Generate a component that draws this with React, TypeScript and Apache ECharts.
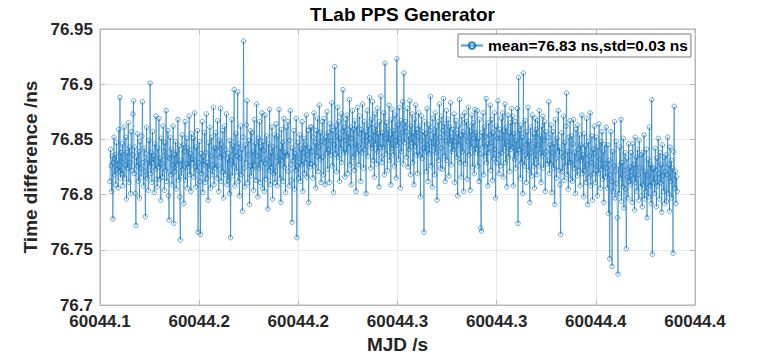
import React, { useEffect, useRef } from "react";
import * as echarts from "echarts";

const TITLE = "TLab PPS Generator";
const X_NAME = "MJD /s";
const Y_NAME = "Time difference /ns";
const LEGEND_NAME = "mean=76.83 ns,std=0.03 ns";

const X_MIN = 60044.1;
const X_MAX = 60044.4;
const X_INTERVAL = 0.05;
const X_TICK_LABELS = ["60044.1", "60044.2", "60044.2", "60044.3", "60044.3", "60044.4", "60044.4"];
const Y_MIN = 76.7;
const Y_MAX = 76.95;
const Y_INTERVAL = 0.05;

// first and last sample time (MJD)
const MJD_START = 60044.105;
const MJD_END = 60044.391;

// Time difference (ns)
const TD_SEG1 = [
  76.812, 76.841, 76.826, 76.803, 76.835, 76.778, 76.829, 76.852, 76.818, 76.836, 76.809, 76.847, 76.823, 76.831, 76.806, 76.859, 76.821, 76.888, 76.815, 76.838,
  76.819, 76.846, 76.808, 76.833, 76.861, 76.815, 76.827, 76.852, 76.796, 76.838, 76.824, 76.865, 76.811, 76.843, 76.829, 76.801, 76.857, 76.822, 76.836, 76.873,
  76.885, 76.819, 76.843, 76.801, 76.772, 76.834, 76.826, 76.855, 76.812, 76.839, 76.797, 76.848, 76.824, 76.816, 76.853, 76.884, 76.829, 76.808, 76.842, 76.821,
  76.780, 76.837, 76.861, 76.815, 76.832, 76.804, 76.849, 76.826, 76.901, 76.819, 76.838, 76.811, 76.857, 76.829, 76.835, 76.802, 76.846, 76.823, 76.871, 76.814,
  76.807, 76.842, 76.825, 76.869, 76.814, 76.833, 76.795, 76.851, 76.828, 76.816, 76.862, 76.839, 76.804, 76.847, 76.822, 76.876, 76.812, 76.834, 76.858, 76.799,
  76.777, 76.833, 76.852, 76.818, 76.841, 76.809, 76.827, 76.862, 76.774, 76.836, 76.821, 76.848, 76.805, 76.839, 76.827, 76.868, 76.813, 76.844, 76.798, 76.759,
  76.831, 76.817, 76.854, 76.823, 76.845, 76.792, 76.839, 76.866, 76.813, 76.828, 76.851, 76.806, 76.842, 76.825, 76.871, 76.818, 76.837, 76.803, 76.855, 76.829,
  76.832, 76.851, 76.816, 76.874, 76.825, 76.807, 76.843, 76.822, 76.858, 76.766, 76.829, 76.848, 76.812, 76.764, 76.837, 76.819, 76.866, 76.802, 76.834, 76.827,
];
const TD_SEG2 = [
  76.856, 76.811, 76.838, 76.873, 76.815, 76.829, 76.795, 76.847, 76.823, 76.861, 76.806, 76.835, 76.852, 76.818, 76.827, 76.879, 76.809, 76.842, 76.824, 76.856,
  76.842, 76.815, 76.867, 76.826, 76.803, 76.849, 76.834, 76.878, 76.812, 76.845, 76.821, 76.858, 76.797, 76.836, 76.862, 76.818, 76.841, 76.873, 76.809, 76.832,
  76.813, 76.837, 76.801, 76.849, 76.761, 76.831, 76.868, 76.817, 76.844, 76.826, 76.895, 76.808, 76.839, 76.855, 76.821, 76.835, 76.893, 76.812, 76.846, 76.799,
  76.833, 76.862, 76.818, 76.841, 76.785, 76.852, 76.939, 76.824, 76.807, 76.845, 76.829, 76.863, 76.885, 76.811, 76.836, 76.849, 76.791, 76.826, 76.858, 76.817,
  76.856, 76.823, 76.839, 76.804, 76.868, 76.827, 76.846, 76.813, 76.882, 76.835, 76.798, 76.851, 76.824, 76.866, 76.811, 76.843, 76.829, 76.874, 76.806, 76.848,
  76.840, 76.803, 76.872, 76.828, 76.814, 76.853, 76.832, 76.787, 76.846, 76.822, 76.877, 76.809, 76.838, 76.825, 76.861, 76.796, 76.843, 76.819, 76.854, 76.811,
  76.821, 76.864, 76.834, 76.808, 76.853, 76.827, 76.877, 76.815, 76.842, 76.793, 76.859, 76.831, 76.847, 76.812, 76.869, 76.825, 76.838, 76.802, 76.861, 76.836,
  76.835, 76.866, 76.821, 76.808, 76.849, 76.876, 76.827, 76.813, 76.775, 76.842, 76.831, 76.858, 76.805, 76.837, 76.822, 76.869, 76.761, 76.826, 76.847, 76.815,
];
const TD_SEG3 = [
  76.833, 76.854, 76.812, 76.841, 76.827, 76.866, 76.803, 76.838, 76.851, 76.819, 76.845, 76.829, 76.872, 76.816, 76.836, 76.858, 76.793, 76.842, 76.825, 76.861,
  76.828, 76.861, 76.839, 76.815, 76.852, 76.874, 76.826, 76.847, 76.806, 76.858, 76.835, 76.869, 76.821, 76.843, 76.881, 76.832, 76.856, 76.811, 76.848, 76.866,
  76.834, 76.818, 76.869, 76.847, 76.809, 76.852, 76.838, 76.875, 76.823, 76.856, 76.841, 76.811, 76.864, 76.836, 76.849, 76.883, 76.826, 76.858, 76.802, 76.845,
  76.916, 76.837, 76.862, 76.821, 76.853, 76.879, 76.834, 76.866, 76.812, 76.851, 76.842, 76.873, 76.829, 76.857, 76.895, 76.838, 76.861, 76.816, 76.849, 76.868,
  76.838, 76.872, 76.819, 76.855, 76.843, 76.886, 76.827, 76.861, 76.809, 76.851, 76.876, 76.834, 76.859, 76.822, 76.867, 76.845, 76.803, 76.862, 76.838, 76.879,
  76.844, 76.827, 76.871, 76.855, 76.812, 76.859, 76.838, 76.882, 76.849, 76.824, 76.866, 76.841, 76.857, 76.801, 76.853, 76.876, 76.835, 76.862, 76.846, 76.888,
  76.851, 76.824, 76.868, 76.842, 76.884, 76.831, 76.857, 76.816, 76.873, 76.846, 76.862, 76.828, 76.878, 76.839, 76.855, 76.807, 76.866, 76.843, 76.889, 76.834,
  76.829, 76.856, 76.843, 76.874, 76.818, 76.919, 76.851, 76.837, 76.865, 76.822, 76.859, 76.847, 76.881, 76.831, 76.854, 76.809, 76.868, 76.842, 76.877, 76.836,
];
const TD_SEG4 = [
  76.858, 76.826, 76.872, 76.849, 76.815, 76.923, 76.845, 76.863, 76.832, 76.879, 76.851, 76.806, 76.867, 76.839, 76.856, 76.884, 76.828, 76.910, 76.847, 76.861,
  76.866, 76.834, 76.857, 76.878, 76.825, 76.853, 76.841, 76.885, 76.818, 76.862, 76.847, 76.873, 76.829, 76.856, 76.809, 76.868, 76.844, 76.881, 76.836, 76.859,
  76.819, 76.853, 76.874, 76.836, 76.862, 76.798, 76.849, 76.871, 76.833, 76.857, 76.842, 76.766, 76.866, 76.839, 76.855, 76.821, 76.878, 76.845, 76.812, 76.863,
  76.837, 76.858, 76.889, 76.826, 76.851, 76.807, 76.869, 76.843, 76.856, 76.818, 76.874, 76.838, 76.861, 76.795, 76.847, 76.866, 76.831, 76.882, 76.852, 76.824,
  76.842, 76.871, 76.823, 76.858, 76.887, 76.835, 76.864, 76.812, 76.849, 76.876, 76.831, 76.855, 76.868, 76.817, 76.861, 76.846, 76.883, 76.827, 76.852, 76.839,
  76.859, 76.841, 76.873, 76.811, 76.848, 76.867, 76.834, 76.855, 76.799, 76.862, 76.845, 76.886, 76.829, 76.853, 76.816, 76.871, 76.839, 76.857, 76.803, 76.865,
  76.874, 76.828, 76.853, 76.866, 76.814, 76.848, 76.879, 76.836, 76.861, 76.804, 76.857, 76.843, 76.872, 76.825, 76.865, 76.851, 76.819, 76.877, 76.838, 76.856,
  76.842, 76.876, 76.826, 76.851, 76.812, 76.868, 76.837, 76.770, 76.767, 76.856, 76.843, 76.874, 76.818, 76.861, 76.835, 76.852, 76.887, 76.829, 76.846, 76.808,
];
const TD_SEG5 = [
  76.865, 76.838, 76.854, 76.881, 76.822, 76.847, 76.868, 76.813, 76.856, 76.833, 76.874, 76.841, 76.797, 76.862, 76.829, 76.851, 76.885, 76.836, 76.819, 76.859,
  76.851, 76.826, 76.869, 76.838, 76.874, 76.816, 76.857, 76.843, 76.882, 76.829, 76.861, 76.807, 76.848, 76.872, 76.834, 76.856, 76.821, 76.865, 76.841, 76.878,
  76.843, 76.871, 76.808, 76.855, 76.832, 76.866, 76.824, 76.849, 76.837, 76.878, 76.774, 76.906, 76.841, 76.858, 76.815, 76.863, 76.829, 76.852, 76.801, 76.910,
  76.839, 76.826, 76.867, 76.845, 76.811, 76.857, 76.834, 76.879, 76.822, 76.848, 76.793, 76.861, 76.838, 76.817, 76.872, 76.843, 76.826, 76.855, 76.806, 76.869,
  76.832, 76.859, 76.818, 76.867, 76.845, 76.826, 76.876, 76.838, 76.853, 76.811, 76.862, 76.835, 76.871, 76.824, 76.849, 76.866, 76.803, 76.857, 76.839, 76.828,
  76.831, 76.852, 76.884, 76.819, 76.845, 76.828, 76.863, 76.802, 76.838, 76.857, 76.824, 76.846, 76.791, 76.868, 76.833, 76.815, 76.851, 76.839, 76.876, 76.822,
];
const TD_SEG6 = [
  76.843, 76.809, 76.764, 76.838, 76.856, 76.821, 76.834, 76.871, 76.813, 76.847, 76.826, 76.862, 76.892, 76.818, 76.839, 76.805, 76.852, 76.829, 76.867, 76.814,
  76.829, 76.853, 76.812, 76.846, 76.868, 76.824, 76.838, 76.801, 76.859, 76.833, 76.817, 76.863, 76.841, 76.822, 76.854, 76.808, 76.845, 76.831, 76.872, 76.819,
  76.836, 76.798, 76.855, 76.822, 76.844, 76.811, 76.869, 76.827, 76.791, 76.848, 76.816, 76.835, 76.874, 76.808, 76.829, 76.853, 76.795, 76.841, 76.819, 76.862,
  76.837, 76.811, 76.852, 76.826, 76.799, 76.843, 76.819, 76.864, 76.832, 76.806, 76.848, 76.823, 76.857, 76.814, 76.839, 76.793, 76.845, 76.828, 76.816, 76.861,
  76.824, 76.806, 76.845, 76.783, 76.831, 76.742, 76.818, 76.857, 76.812, 76.735, 76.839, 76.803, 76.826, 76.866, 76.797, 76.821, 76.848, 76.810, 76.779, 76.728,
  76.826, 76.801, 76.843, 76.815, 76.868, 76.794, 76.829, 76.807, 76.851, 76.788, 76.822, 76.838, 76.805, 76.751, 76.833, 76.816, 76.797, 76.846, 76.812, 76.825,
  76.809, 76.838, 76.821, 76.793, 76.846, 76.815, 76.827, 76.786, 76.852, 76.811, 76.834, 76.803, 76.841, 76.818, 76.795, 76.849, 76.824, 76.807, 76.836, 76.799,
  76.789, 76.838, 76.809, 76.854, 76.796, 76.821, 76.803, 76.841, 76.779, 76.817, 76.832, 76.798, 76.861, 76.808, 76.827, 76.792, 76.886, 76.746, 76.823, 76.811,
  76.824, 76.801, 76.842, 76.815, 76.789, 76.833, 76.808, 76.851, 76.819, 76.796, 76.838, 76.811, 76.827, 76.784, 76.845, 76.817, 76.803, 76.834, 76.792, 76.821,
  76.836, 76.794, 76.818, 76.852, 76.801, 76.827, 76.785, 76.843, 76.812, 76.831, 76.797, 76.824, 76.747, 76.839, 76.880, 76.806, 76.821, 76.792, 76.816, 76.803,
];

const TIME_DIFF = [...TD_SEG1, ...TD_SEG2, ...TD_SEG3, ...TD_SEG4, ...TD_SEG5, ...TD_SEG6];

const FONT = "'Liberation Sans', Arial, Helvetica, sans-serif";

export default function App() {
  const ref = useRef<HTMLDivElement>(null);
  useEffect(() => {
    if (!ref.current) return;
    const chart = echarts.init(ref.current, null, { renderer: "svg" });
    const step = (MJD_END - MJD_START) / (TIME_DIFF.length - 1);
    const data = TIME_DIFF.map((v, i) => [MJD_START + i * step, v]);
    const axisLabelStyle = {
      fontFamily: FONT,
      fontWeight: "bold" as const,
      fontSize: 17,
      color: "#262626",
    };
    const gridLine = { show: true, lineStyle: { color: "#e8e8e8", width: 1 } };
    const boxAxis = { lineStyle: { color: "#b8b8b8", width: 1 } };
    chart.setOption({
      animation: false,
      backgroundColor: "#ffffff",
      title: {
        text: TITLE,
        left: 397.5,
        textAlign: "center",
        top: 0,
        textStyle: { fontFamily: FONT, fontWeight: "bold", fontSize: 19, color: "#000" },
      },
      legend: {
        left: 458,
        top: 34,
        padding: [3, 3, 3, 2],
        itemWidth: 22,
        itemHeight: 8,
        itemGap: 0,
        backgroundColor: "#fff",
        borderColor: "#7a7a7a",
        borderWidth: 1,
        textStyle: { fontFamily: FONT, fontWeight: "bold", fontSize: 15.5, color: "#000", lineHeight: 17 },
        data: [LEGEND_NAME],
      },
      grid: {
        left: 100,
        right: 73,
        top: 29,
        bottom: 52,
        containLabel: false,
        outerBoundsMode: "none",
        show: true,
        borderColor: "#b8b8b8",
        borderWidth: 1,
      },
      xAxis: [
        {
          type: "value",
          min: X_MIN,
          max: X_MAX,
          interval: X_INTERVAL,
          name: X_NAME,
          nameLocation: "middle",
          nameGap: 30,
          nameTextStyle: { fontFamily: FONT, fontWeight: "bold", fontSize: 19, color: "#262626" },
          axisLine: { show: true, ...boxAxis },
          axisTick: { show: true, inside: true, length: 5, lineStyle: { color: "#b8b8b8" } },
          splitLine: gridLine,
          axisLabel: {
            ...axisLabelStyle,
            margin: 8,
            showMinLabel: true,
            showMaxLabel: true,
            formatter: (v: number) => X_TICK_LABELS[Math.round((v - X_MIN) / X_INTERVAL)] ?? "",
          },
        },
        {
          type: "value",
          position: "top",
          min: X_MIN,
          max: X_MAX,
          interval: X_INTERVAL,
          axisLine: { show: true, ...boxAxis },
          axisTick: { show: true, inside: true, length: 5, lineStyle: { color: "#b8b8b8" } },
          splitLine: { show: false },
          axisLabel: { show: false },
        },
      ],
      yAxis: [
        {
          type: "value",
          min: Y_MIN,
          max: Y_MAX,
          interval: Y_INTERVAL,
          name: Y_NAME,
          nameLocation: "middle",
          nameGap: 53,
          nameRotate: 90,
          nameTextStyle: { fontFamily: FONT, fontWeight: "bold", fontSize: 19, color: "#262626" },
          axisLine: { show: true, ...boxAxis },
          axisTick: { show: true, inside: true, length: 5, lineStyle: { color: "#b8b8b8" } },
          splitLine: gridLine,
          axisLabel: { ...axisLabelStyle, margin: 7, showMinLabel: true, showMaxLabel: true },
        },
        {
          type: "value",
          position: "right",
          min: Y_MIN,
          max: Y_MAX,
          interval: Y_INTERVAL,
          axisLine: { show: true, ...boxAxis },
          axisTick: { show: true, inside: true, length: 5, lineStyle: { color: "#b8b8b8" } },
          splitLine: { show: false },
          axisLabel: { show: false },
        },
      ],
      series: [
        {
          name: LEGEND_NAME,
          type: "line",
          xAxisIndex: 0,
          yAxisIndex: 0,
          data,
          showAllSymbol: true,
          symbol: "circle",
          symbolSize: 4.5,
          silent: true,
          lineStyle: { color: "rgba(0,108,184,0.68)", width: 0.8 },
          itemStyle: { color: "rgba(255,255,255,0)", borderColor: "rgba(0,108,184,0.85)", borderWidth: 0.7 },
          emphasis: { disabled: true },
        },
      ],
    });
    return () => chart.dispose();
  }, []);
  return (
    <div
      ref={ref}
      style={{ position: "fixed", left: 0, top: 0, width: 768, height: 357, background: "#fff" }}
    />
  );
}
